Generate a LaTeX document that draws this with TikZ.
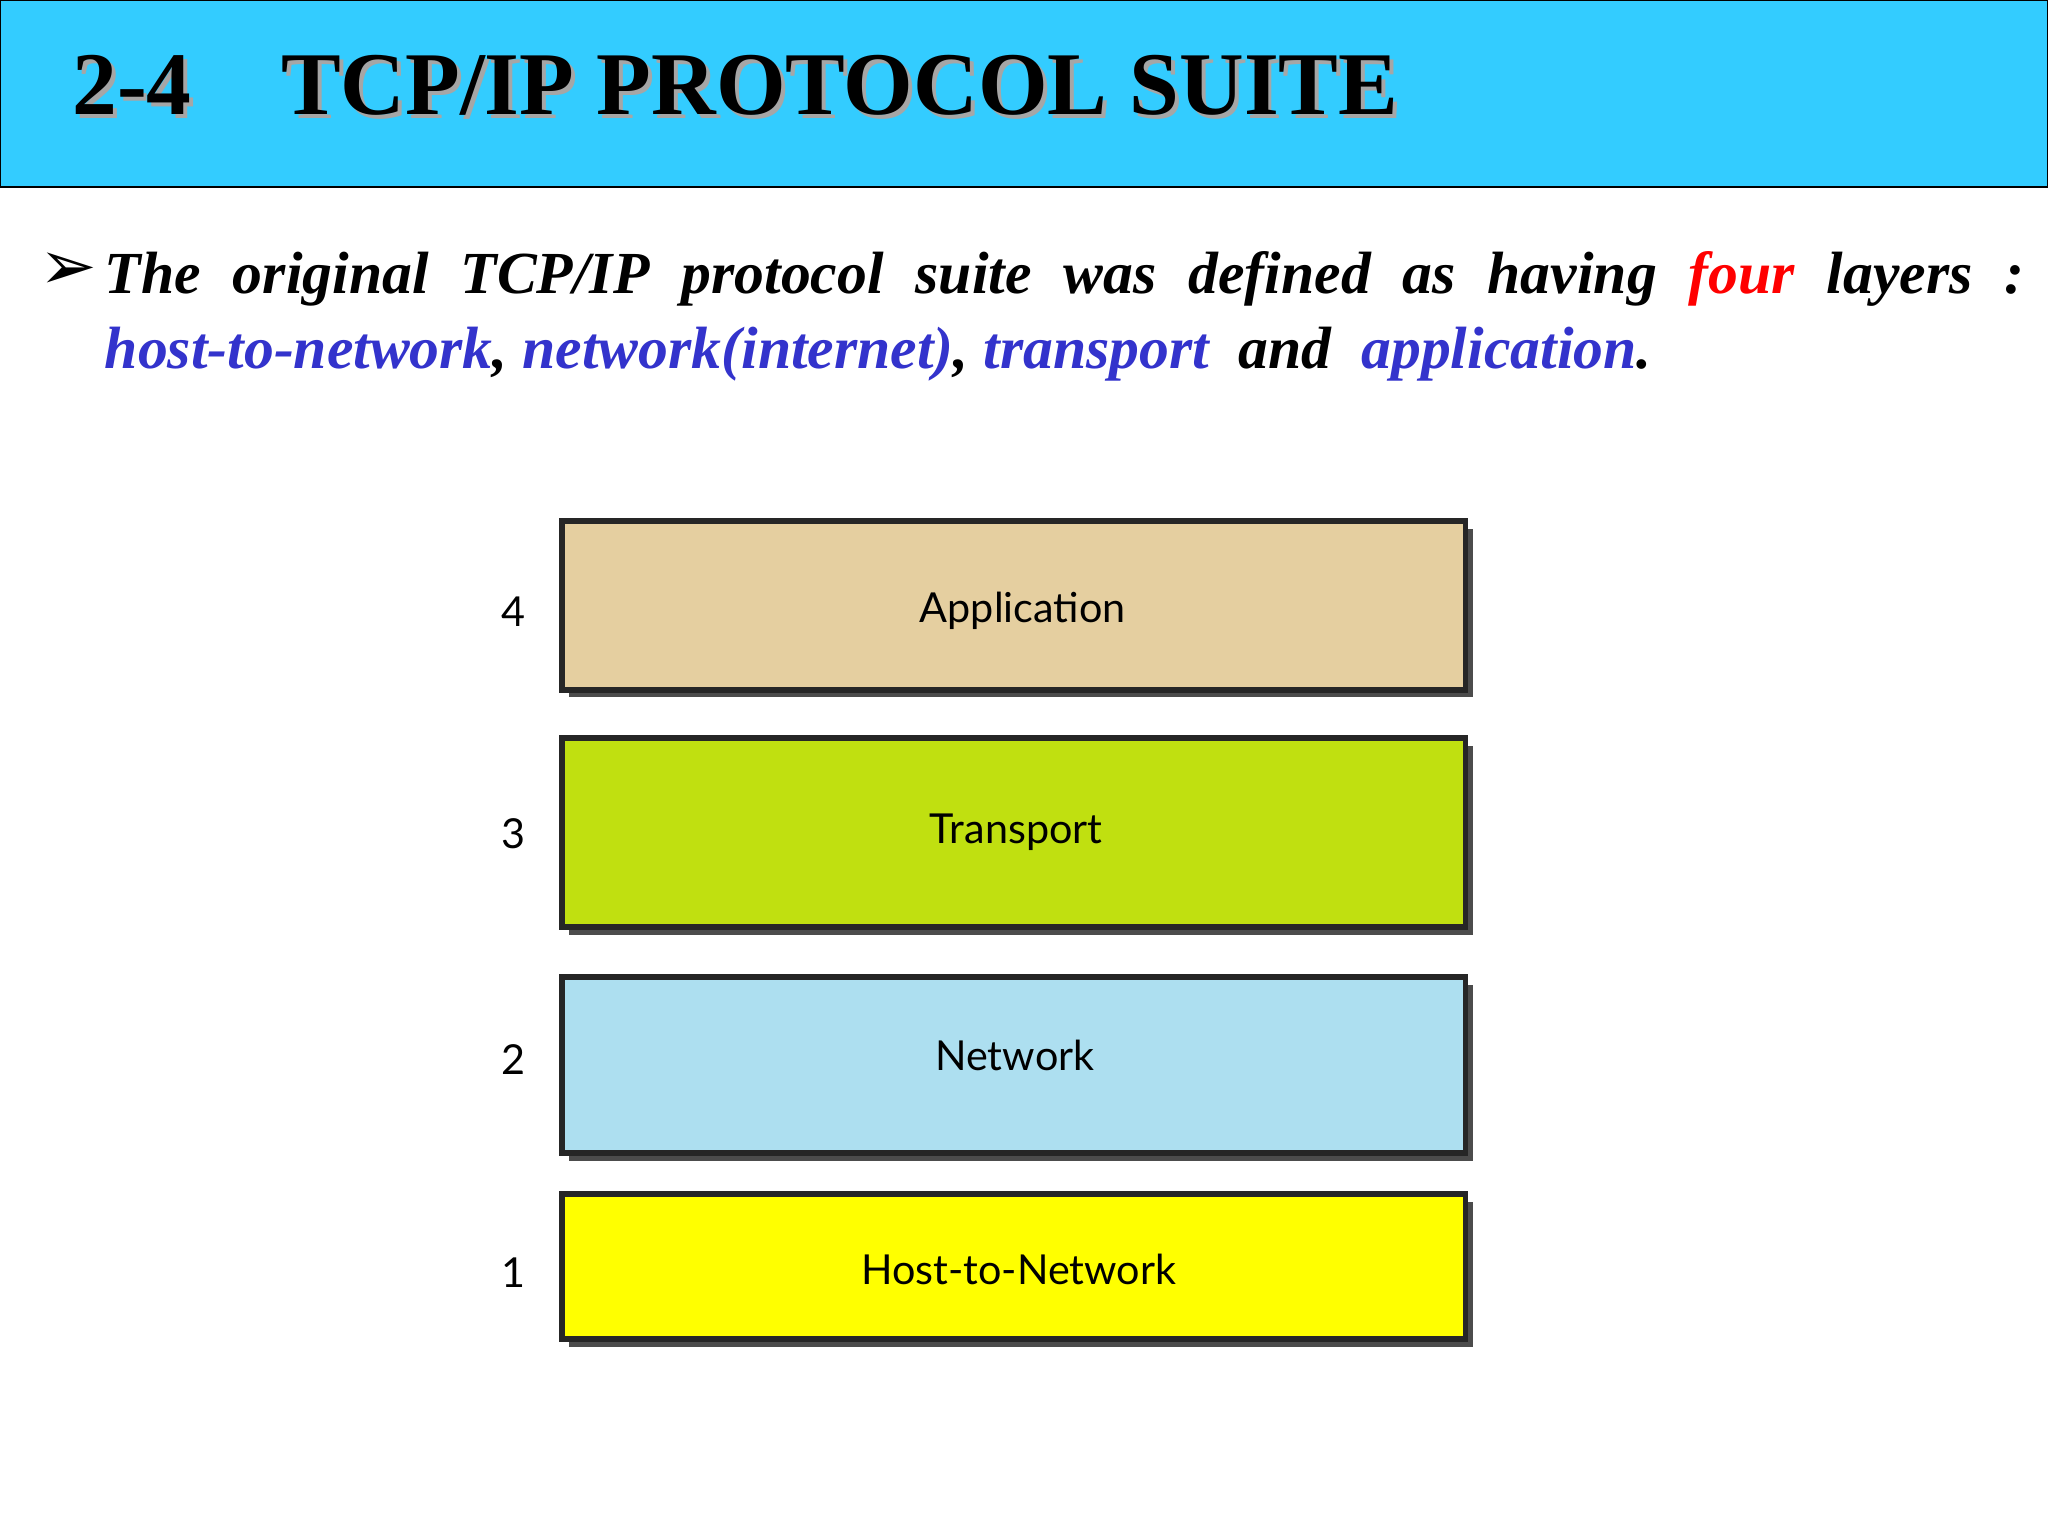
\documentclass[tikz,border=0pt]{standalone}
\usepackage{fontspec}
\setmainfont{Liberation Serif}
\newfontfamily\boxfont{Lato}
\newfontfamily\symfont{DejaVu Sans}
\definecolor{hdr}{HTML}{33CCFF}
\definecolor{blu}{HTML}{3333CC}
\definecolor{appc}{HTML}{E5CFA0}
\definecolor{trc}{HTML}{C0E010}
\definecolor{netc}{HTML}{ADDFF0}
\definecolor{hostc}{HTML}{FFFF00}
\tikzset{layer/.style={draw=black!85,line width=2.5pt},
 shad/.style={fill=black!70},
 lbl/.style={font=\boxfont\fontsize{18}{22}\selectfont},
 num/.style={font=\boxfont\fontsize{18}{22}\selectfont},
 body/.style={anchor=base west,inner sep=0pt,font=\bfseries\itshape\fontsize{26}{30}\selectfont}}
\begin{document}
\begin{tikzpicture}[x=0.02cm,y=-0.02cm]
\useasboundingbox (0,0) rectangle (1568,1176);
\fill[white] (0,0) rectangle (1568,1176);
\draw[fill=hdr,line width=1pt] (0,0) rectangle (1568,143);
\node[anchor=base west,inner sep=0pt,text=black!35,font=\bfseries\fontsize{39}{44}\selectfont] (tsh) at (58,91) {2-4\hspace{1em}TCP/IP PROTOCOL SUITE};
\node[anchor=base west,inner sep=0pt,font=\bfseries\fontsize{39}{44}\selectfont] (title) at (55,88) {2-4\hspace{1em}TCP/IP PROTOCOL SUITE};
\node[anchor=base west,inner sep=0pt,font=\symfont\fontsize{30}{34}\selectfont] (bul) at (30,222) {➢};
\node[body] (l1) at (80,225) {\makebox[29.4cm][s]{The original TCP/IP protocol suite was defined as having \textcolor{red}{four} layers :}};
\node[body] (l2) at (80,282) {\textcolor{blu}{host-to-network}, \textcolor{blu}{network(internet)}, \textcolor{blu}{transport}\ \ and\ \ \textcolor{blu}{application}.};
% layers
\fill[shad] (436,405) rectangle (1128,534);
\draw[layer,fill=appc] (430,399) rectangle (1122,528);
\node[lbl] (app) at (783,468) {Application};
\node[num] (n4) at (393,468) {4};
\fill[shad] (436,571) rectangle (1128,716);
\draw[layer,fill=trc] (430,565) rectangle (1122,710);
\node[lbl] (tr) at (778,637) {Transport};
\node[num] (n3) at (393,638) {3};
\fill[shad] (436,754) rectangle (1128,889);
\draw[layer,fill=netc] (430,748) rectangle (1122,883);
\node[lbl] (net) at (777,808) {Network};
\node[num] (n2) at (393,811) {2};
\fill[shad] (436,920) rectangle (1128,1031);
\draw[layer,fill=hostc] (430,914) rectangle (1122,1025);
\node[lbl] (host) at (780,972) {Host-to-Network};
\node[num] (n1) at (393,974) {1};
\end{tikzpicture}
\end{document}
